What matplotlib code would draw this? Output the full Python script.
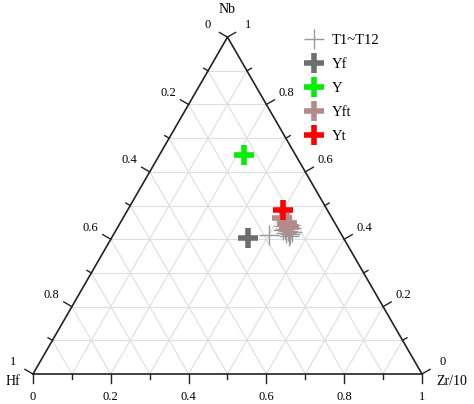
import matplotlib
matplotlib.use('Agg')
import matplotlib.pyplot as plt
import numpy as np

plt.rcParams['font.family'] = ['Liberation Serif', 'DejaVu Serif']

# Ternary data: fractions of Hf, Zr/10 and Nb
t_hf = [0.187, 0.132, 0.137, 0.132, 0.120, 0.135, 0.126, 0.124, 0.141, 0.137, 0.144, 0.118]
t_zr = [0.401, 0.453, 0.433, 0.444, 0.447, 0.426, 0.432, 0.455, 0.441, 0.454, 0.429, 0.440]
t_nb = [0.412, 0.415, 0.430, 0.424, 0.433, 0.439, 0.442, 0.421, 0.418, 0.409, 0.427, 0.442]

yf_hf, yf_zr, yf_nb = [0.245], [0.351], [0.404]
y_hf, y_zr, y_nb = [0.133], [0.217], [0.650]
yft_hf = [0.128, 0.123, 0.124]
yft_zr = [0.409, 0.429, 0.440]
yft_nb = [0.463, 0.448, 0.436]
yt_hf, yt_zr, yt_nb = [0.113], [0.400], [0.487]

ticks = [0, 0.2, 0.4, 0.6, 0.8, 1]
tick_labels = ['0', '0.2', '0.4', '0.6', '0.8', '1']
minor = [0.1, 0.3, 0.5, 0.7, 0.9]

S3 = np.sqrt(3) / 2


def cart(hf, zr, nb):
    hf, zr, nb = np.asarray(hf), np.asarray(zr), np.asarray(nb)
    tot = hf + zr + nb
    zr, nb = zr / tot, nb / tot
    return zr + nb / 2, nb * S3


fig = plt.figure(figsize=(4.74, 4.04), dpi=100)
ax = fig.add_axes([0, 0, 1, 1])
ax.set_xlim(-0.0848, 1.1337)
ax.set_ylim(-0.0771, 0.9614)
ax.axis('off')

# grid
gc = '#dedede'
for k in np.arange(1, 10) / 10:
    # constant Nb
    x, y = cart([1 - k, 0], [0, 1 - k], [k, k])
    ax.plot(x, y, color=gc, lw=0.8, zorder=1)
    # constant Hf
    x, y = cart([k, k], [1 - k, 0], [0, 1 - k])
    ax.plot(x, y, color=gc, lw=0.8, zorder=1)
    # constant Zr
    x, y = cart([1 - k, 0], [k, k], [0, 1 - k])
    ax.plot(x, y, color=gc, lw=0.8, zorder=1)

# frame
x, y = cart([1, 0, 0, 1], [0, 1, 0, 0], [0, 0, 1, 0])
ax.plot(x, y, color='#222222', lw=1.2, zorder=2, solid_joinstyle='miter')

maj, mnr, off = 0.024, 0.013, 0.06
d_bot = np.array([0, -1])
d_left = np.array([-np.sqrt(3) / 2, 0.5])
d_right = np.array([np.sqrt(3) / 2, 0.5])

for vals, length in ((ticks, maj), (minor, mnr)):
    for v in vals:
        # bottom axis: Zr/10
        p = np.array(cart(1 - v, v, 0))
        ax.plot(*zip(p, p + d_bot * length), color='#222222', lw=1.0)
        # left axis: Hf
        p = np.array(cart(v, 0, 1 - v))
        ax.plot(*zip(p, p + d_left * length), color='#222222', lw=1.0)
        # right axis: Nb
        p = np.array(cart(0, 1 - v, v))
        ax.plot(*zip(p, p + d_right * length), color='#222222', lw=1.0)

fs = 9
for v, lab in zip(ticks, tick_labels):
    p = np.array(cart(1 - v, v, 0)) + d_bot * off
    ax.text(p[0], p[1], lab, ha='center', va='center', fontsize=fs)
    p = np.array(cart(v, 0, 1 - v)) + d_left * off
    ax.text(p[0], p[1], lab, ha='center', va='center', fontsize=fs)
    p = np.array(cart(0, 1 - v, v)) + d_right * off
    ax.text(p[0], p[1], lab, ha='center', va='center', fontsize=fs)

ax.text(0.5, S3 + 0.072, 'Nb', ha='center', va='center', fontsize=10)
ax.text(-0.052, -0.018, 'Hf', ha='center', va='center', fontsize=10)
ax.text(1.077, -0.018, 'Zr/10', ha='center', va='center', fontsize=10)

ms = 14
ax.plot(*cart(t_hf, t_zr, t_nb), ls='none', marker='+', ms=ms, mew=1.0,
        color='#999999', label='T1~T12', zorder=3)
ax.plot(*cart(yf_hf, yf_zr, yf_nb), ls='none', marker='+', ms=ms, mew=4,
        color='#6e6e6e', label='Yf', zorder=4)
ax.plot(*cart(y_hf, y_zr, y_nb), ls='none', marker='+', ms=ms, mew=4,
        color='#00ee00', label='Y', zorder=4)
ax.plot(*cart(yft_hf, yft_zr, yft_nb), ls='none', marker='+', ms=ms, mew=4,
        color='#b48a8a', label='Yft', zorder=4)
ax.plot(*cart(yt_hf, yt_zr, yt_nb), ls='none', marker='+', ms=ms, mew=4,
        color='#ff0000', label='Yt', zorder=5)

leg = ax.legend(loc='upper left', bbox_to_anchor=(0.63, 0.93), frameon=False,
                fontsize=10.5, handlelength=1.3, handletextpad=0.6,
                labelspacing=0.74, borderaxespad=0)

fig.savefig('out.png', dpi=100)
